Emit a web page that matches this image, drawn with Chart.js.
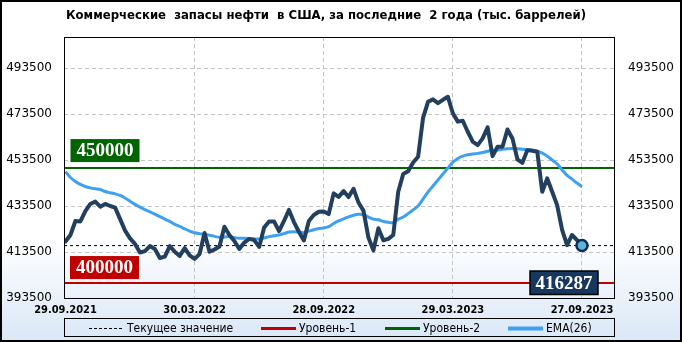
<!DOCTYPE html>
<html><head><meta charset="utf-8">
<script src="https://cdn.jsdelivr.net/npm/chart.js@4/dist/chart.umd.min.js"></script>
<style>html,body{margin:0;padding:0;background:#fff}canvas{display:block}</style>
</head><body>
<canvas id="c" width="682" height="342"></canvas>
<script>
const TITLE = 'Коммерческие  запасы нефти  в США, за последние  2 года (тыс. баррелей)';
const STOCKS = [418100,420900,427000,426800,431300,434400,435400,433200,434400,433500,
432800,427800,422800,419400,417000,413300,413900,416100,414800,410900,
411500,416100,413600,411800,415200,412000,410500,412600,421800,413600,
414600,415900,424500,420900,418300,414800,417600,419200,418700,415700,
424200,426800,426800,422600,427000,431800,426500,422300,418500,427000,
429600,431000,431100,430000,439000,437500,440000,437400,441000,435000,
431500,419800,414200,423800,418600,419200,420900,439700,447400,448600,
452400,454900,471800,478800,479900,478200,479700,481000,473800,470200,
470600,465800,461500,460000,462900,467700,455200,459300,459300,466800,
462900,453800,452300,457800,457500,457100,439700,445500,439700,433900,
423100,416500,420900,418700,416287];
const EMA26 = [448400,445900,444200,442900,442000,441400,441000,440700,439800,439300,
438800,438100,437000,435600,434200,433000,431900,431000,430000,428900,
427800,426800,425500,424600,423600,422600,421900,421500,421200,420800,
420300,419900,420000,420200,419800,419500,419500,419400,419200,419200,
419600,420200,420600,420900,421500,422200,422300,422200,421900,422600,
423200,423700,424000,424500,425900,427000,427900,428800,429500,429900,
429700,428700,427800,427500,426800,426400,426300,427800,428700,430200,
431800,433500,436500,439600,442200,444800,447400,450000,452600,454200,
455200,455800,456100,456400,456800,457300,457600,457800,458200,458400,
458500,458400,458200,458000,457800,457400,456500,455200,453500,451800,
449200,446800,445200,443500,441900];
const LEVEL_1 = 400000;
const LEVEL_2 = 450000;
const CURRENT = 416287;
const X_TICK_POS = [0, 26, 52, 78, 104];
const X_TICK_LABELS = ['29.09.2021','30.03.2022','28.09.2022','29.03.2023','27.09.2023'];
const Y_TICKS = [393500, 413500, 433500, 453500, 473500, 493500];
const Y_MIN = 393500, Y_MAX = 507000;
const X_MIN = -0.3, X_MAX = 110.65;
const LEGEND_LABELS = ['Текущее значение', 'Уровень-1', 'Уровень-2', 'EMA(26)'];

const NAVY = '#233f60', BLUE = '#3ea0f2', GREEN = '#006400', RED = '#c00000';
const COND = '"DejaVu Sans Condensed", "Liberation Sans Narrow", "DejaVu Sans", sans-serif';

const pts = arr => arr.map((v, i) => ({x: i, y: v}));
const hline = v => [{x: X_MIN, y: v}, {x: X_MAX, y: v}];

const decor = {
  id: 'decor',
  beforeDraw(chart) {
    const {ctx, width, height} = chart;
    const g = ctx.createLinearGradient(0, 0, 0, height);
    g.addColorStop(0, '#ffffff');
    g.addColorStop(0.70, '#ffffff');
    g.addColorStop(1, '#d9e7f7');
    ctx.save();
    ctx.fillStyle = g;
    ctx.fillRect(0, 0, width, height);
    ctx.restore();
  },
  afterDatasetsDraw(chart) {
    const {ctx, chartArea: a, scales} = chart;
    const y = scales.y;
    ctx.save();
    ctx.font = 'bold 19px "Liberation Serif", "Times New Roman", serif';
    ctx.textAlign = 'center';
    ctx.textBaseline = 'middle';
    const box = (x0, yb, w, h, bg, txt, border) => {
      ctx.fillStyle = bg;
      ctx.fillRect(x0, yb - h, w, h);
      if (border) { ctx.strokeStyle = '#000'; ctx.lineWidth = 1.5; ctx.strokeRect(x0, yb - h, w, h); }
      ctx.fillStyle = '#fff';
      ctx.fillText(txt, x0 + w / 2, yb - h / 2 + 1);
    };
    box(a.left + 6.5, y.getPixelForValue(LEVEL_2) - 6, 69, 23, GREEN, String(LEVEL_2), false);
    box(a.left + 6, y.getPixelForValue(LEVEL_1) - 4, 69, 23, RED, String(LEVEL_1), false);
    box(a.right - 85, a.bottom - 3.5, 68, 23.5, '#17375e', String(CURRENT), true);
    ctx.strokeStyle = '#000';
    ctx.lineWidth = 1;
    ctx.strokeRect(a.left + 0.5, a.top + 0.5, a.right - a.left - 1, a.bottom - a.top);
    ctx.restore();
  },
  afterDraw(chart) {
    const {ctx, width, height, chartArea: a} = chart;
    ctx.save();
    ctx.strokeStyle = '#000';
    ctx.lineWidth = 2;
    ctx.strokeRect(1, 1, width - 2, height - 2);
    ctx.fillStyle = '#000';
    ctx.font = 'bold 13px ' + COND;
    ctx.textAlign = 'center';
    ctx.textBaseline = 'middle';
    ctx.fillText(TITLE, 326, 16);
    const ly = 328;
    ctx.lineWidth = 1;
    ctx.strokeRect(a.left + 0.5, 318.5, a.right - a.left - 1, 18);
    ctx.font = '12px ' + COND;
    ctx.textAlign = 'left';
    const items = [
      {x0: 89, x1: 122, color: '#000', w: 1, dash: [3, 2], tx: 127},
      {x0: 261, x1: 296, color: RED, w: 3, dash: [], tx: 299},
      {x0: 385, x1: 420, color: GREEN, w: 3, dash: [], tx: 423},
      {x0: 508, x1: 543, color: BLUE, w: 4, dash: [], tx: 546}
    ];
    items.forEach((it, i) => {
      ctx.beginPath();
      ctx.setLineDash(it.dash);
      ctx.strokeStyle = it.color;
      ctx.lineWidth = it.w;
      ctx.moveTo(it.x0, ly + 0.5);
      ctx.lineTo(it.x1, ly + 0.5);
      ctx.stroke();
      ctx.setLineDash([]);
      ctx.fillStyle = '#000';
      ctx.fillText(LEGEND_LABELS[i], it.tx, ly + 1);
    });
    ctx.restore();
  }
};

const yTicksCfg = pad => ({
  font: {family: 'DejaVu Sans', size: 12},
  color: '#000',
  padding: pad,
  autoSkip: false,
  callback: v => String(v)
});

new Chart(document.getElementById('c'), {
  type: 'line',
  data: {
    datasets: [
      {label: 'main', data: pts(STOCKS), borderColor: NAVY, borderWidth: 4, tension: 0,
        pointRadius: c => c.dataIndex === STOCKS.length - 1 ? 5.5 : 0,
        pointBackgroundColor: '#5cb6d3', pointBorderColor: '#0c2d5a', pointBorderWidth: 2.5,
        borderJoinStyle: 'round', borderCapStyle: 'round'},
      {label: LEGEND_LABELS[3], data: pts(EMA26), borderColor: BLUE, borderWidth: 3, tension: 0.3, pointRadius: 0},
      {label: LEGEND_LABELS[2], data: hline(LEVEL_2), borderColor: GREEN, borderWidth: 2, pointRadius: 0},
      {label: LEGEND_LABELS[1], data: hline(LEVEL_1), borderColor: RED, borderWidth: 2, pointRadius: 0},
      {label: LEGEND_LABELS[0], data: hline(CURRENT), borderColor: '#000', borderWidth: 1, borderDash: [3, 3], pointRadius: 0}
    ]
  },
  options: {
    responsive: false,
    animation: false,
    layout: {padding: {top: 37, left: 0, right: 0, bottom: 0}},
    plugins: {legend: {display: false}, title: {display: false}, tooltip: {enabled: false}},
    scales: {
      x: {
        type: 'linear', min: X_MIN, max: X_MAX,
        afterBuildTicks: s => { s.ticks = X_TICK_POS.map(v => ({value: v})); },
        afterFit: s => { s.height = 44; },
        ticks: {
          callback: v => X_TICK_LABELS[X_TICK_POS.indexOf(v)],
          font: {family: COND, size: 11, weight: 'bold'}, color: '#000',
          padding: 6, maxRotation: 0, autoSkip: false
        },
        grid: {color: c => (c.tick && c.tick.value === 0) ? 'rgba(0,0,0,0)' : '#c4c4c4', drawTicks: false, lineWidth: 1},
        border: {display: false, dash: [4, 3]}
      },
      y: {
        position: 'left', min: Y_MIN, max: Y_MAX,
        afterBuildTicks: s => { s.ticks = Y_TICKS.map(v => ({value: v})); },
        afterFit: s => { s.width = 64; },
        ticks: yTicksCfg(12),
        grid: {color: c => (c.tick && c.tick.value === Y_MIN) ? 'rgba(0,0,0,0)' : '#c4c4c4', drawTicks: false, lineWidth: 1},
        border: {display: false, dash: [4, 3]}
      },
      y2: {
        position: 'right', min: Y_MIN, max: Y_MAX,
        afterBuildTicks: s => { s.ticks = Y_TICKS.map(v => ({value: v})); },
        afterFit: s => { s.width = 67; },
        ticks: yTicksCfg(13),
        grid: {display: false, drawTicks: false},
        border: {display: false}
      }
    }
  },
  plugins: [decor]
});
</script>
</body></html>
